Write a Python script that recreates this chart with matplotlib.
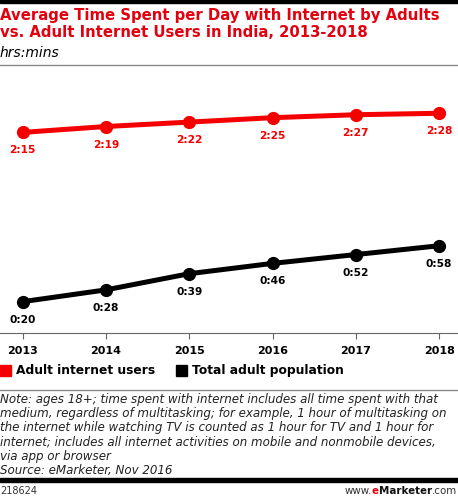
import matplotlib
matplotlib.use('AGG')
import matplotlib.pyplot as plt
from matplotlib.patches import Rectangle
from matplotlib.lines import Line2D

# data (minutes per day)
years = [2013, 2014, 2015, 2016, 2017, 2018]
internet_users = [135, 139, 142, 145, 147, 148]
total_adults = [20, 28, 39, 46, 52, 58]
series_names = ['Adult internet users', 'Total adult population']
series_colors = ['#f50000', '#000000']

title = 'Average Time Spent per Day with Internet by Adults\nvs. Adult Internet Users in India, 2013-2018'
subtitle = 'hrs:mins'
note = ('Note: ages 18+; time spent with internet includes all time spent with that\n'
        'medium, regardless of multitasking; for example, 1 hour of multitasking on\n'
        'the internet while watching TV is counted as 1 hour for TV and 1 hour for\n'
        'internet; includes all internet activities on mobile and nonmobile devices,\n'
        'via app or browser\n'
        'Source: eMarketer, Nov 2016')
chart_id = '218624'

W, H = 458, 497
fig = plt.figure(figsize=(W/100, H/100), dpi=100)
plt.rcParams['font.family'] = 'DejaVu Sans'

def fy(px):
    return 1 - px/H

def fmt(m):
    return f'{m//60}:{m%60:02d}'

ax = fig.add_axes([0, fy(333), 1, fy(80) - fy(333)])
for vals, c in zip([internet_users, total_adults], series_colors):
    ax.plot(years, vals, color=c, lw=3.6, marker='o', ms=8.5, solid_capstyle='round')
    for x, v in zip(years, vals):
        ax.annotate(fmt(v), (x, v), xytext=(0, -13), textcoords='offset points',
                    ha='center', va='center', fontsize=7.7, fontweight='bold', color=c)

ax.set_xlim(2013 - 0.272, 2018.226)
ax.set_ylim(-1.3, 170.6)
ax.set_yticks([])
ax.set_xticks(years)
ax.set_xticklabels([str(y) for y in years], fontsize=8, fontweight='bold')
ax.tick_params(axis='x', length=4, width=0.8, color='#666666', pad=5)
for s in ['top', 'left', 'right']:
    ax.spines[s].set_visible(False)
ax.spines['bottom'].set_color('#666666')
ax.spines['bottom'].set_linewidth(0.8)

# header
fig.patches.append(Rectangle((0, fy(2.5)), 1, 2.5/H, transform=fig.transFigure, color='black'))
fig.text(0, fy(8), title, ha='left', va='top', fontsize=10.7, fontweight='bold',
         color='#e3000f', linespacing=1.13)
fig.text(0, fy(46), subtitle, ha='left', va='top', fontsize=10, style='italic', color='black')
fig.add_artist(Line2D([0, 1], [fy(65), fy(65)], color='#888888', lw=1, transform=fig.transFigure))

# legend
lx = [0, 176]
for i, (name, c) in enumerate(zip(series_names, series_colors)):
    fig.patches.append(Rectangle((lx[i]/W, fy(376)), 11/W, 11/H, transform=fig.transFigure, color=c))
    fig.text((lx[i] + 16)/W, fy(370.5), name, ha='left', va='center', fontsize=8.8, fontweight='bold')

fig.add_artist(Line2D([0, 1], [fy(390), fy(390)], color='#888888', lw=1, transform=fig.transFigure))
fig.text(0, fy(393), note, ha='left', va='top', fontsize=8.55, style='italic', color='#222222',
         linespacing=1.12)

fig.patches.append(Rectangle((0, fy(482)), 1, 4/H, transform=fig.transFigure, color='black'))
fig.text(0, fy(490.5), chart_id, ha='left', va='center', fontsize=7, color='#333333')

# footer url, built right to left
r = fig.canvas.get_renderer()
parts = [('.com', 'normal', '#333333'), ('Marketer', 'bold', '#111111'),
         ('e', 'bold', '#e3000f'), ('www.', 'normal', '#333333')]
xr = W - 1
for txt, w, c in parts:
    t = fig.text(xr/W, fy(490.5), txt, ha='right', va='center', fontsize=7.4, fontweight=w, color=c)
    xr -= t.get_window_extent(renderer=r).width

fig.savefig('out.png', dpi=100)
